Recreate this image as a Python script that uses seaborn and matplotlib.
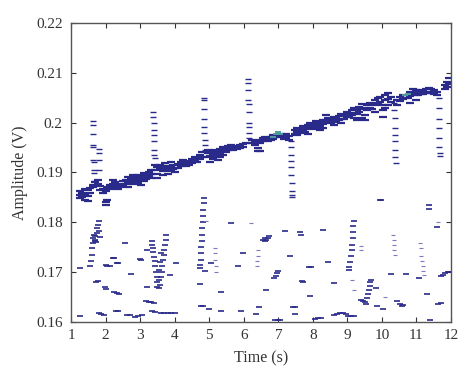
import numpy as np
import pandas as pd
import matplotlib
matplotlib.use("Agg")
import matplotlib.pyplot as plt
import seaborn as sns

# Main drifting trace: time columns and the amplitudes seen in each column
band_t = [1.25, 1.32, 1.4, 1.48, 1.55, 1.62, 1.7, 1.78, 1.85, 1.92, 2.0, 2.05, 2.12,
          2.2, 2.28, 2.35, 2.42, 2.5, 2.58, 2.65, 2.72, 2.8, 2.88, 2.95, 3.02, 3.1,
          3.18, 3.25, 3.3, 3.42, 3.5, 3.58, 3.65, 3.72, 3.8, 3.88, 3.95, 4.02, 4.1,
          4.18, 4.25, 4.32, 4.4, 4.5, 4.58, 4.65, 4.72, 4.8, 4.95, 5.02, 5.1, 5.18,
          5.25, 5.32, 5.4, 5.48, 5.55, 5.62, 5.7, 5.8, 5.9, 5.98, 6.05, 6.25, 6.32,
          6.4, 6.48, 6.55, 6.62, 6.7, 6.78, 6.85, 6.92, 7.0, 7.08, 7.15, 7.22, 7.3,
          7.48, 7.55, 7.62, 7.7, 7.78, 7.85, 7.92, 8.0, 8.08, 8.15, 8.22, 8.3, 8.38,
          8.45, 8.52, 8.6, 8.68, 8.75, 8.82, 8.9, 8.98, 9.05, 9.12, 9.2, 9.28, 9.35,
          9.42, 9.5, 9.58, 9.65, 9.72, 9.8, 9.88, 9.95, 10.02, 10.1, 10.18, 10.25,
          10.45, 10.52, 10.6, 10.68, 10.75, 10.82, 10.9, 10.98, 11.05, 11.12, 11.2,
          11.28, 11.35, 11.42, 11.5, 11.58, 11.82, 11.88, 11.95]
band_a = [[0.1862, 0.1855, 0.1848], [0.1858, 0.1850], [0.1866, 0.1857, 0.1845],
          [0.1864, 0.1852, 0.1843], [0.1868, 0.1858], [0.1875, 0.1870], [0.1880],
          [0.1885, 0.1876], [0.1872, 0.1865], [0.1866, 0.1858], [0.1862, 0.1840, 0.1835],
          [0.1870, 0.1845], [0.1874, 0.1866], [0.1885, 0.1876, 0.1868], [0.1880, 0.1872],
          [0.1874, 0.1866], [0.1877, 0.1870], [0.1882, 0.1874], [0.1884, 0.1876],
          [0.1890, 0.1880, 0.1870], [0.1886, 0.1878], [0.1894, 0.1884, 0.1876],
          [0.1890, 0.1880], [0.1895, 0.1886, 0.1878], [0.1892, 0.1884, 0.1874],
          [0.1898, 0.1890, 0.1882], [0.1896, 0.1887], [0.1900, 0.1892],
          [0.1905, 0.1896, 0.1888], [0.1915, 0.1905], [0.1910, 0.1897, 0.1889],
          [0.1915, 0.1906], [0.1912, 0.1902, 0.1894], [0.1918, 0.1908],
          [0.1912, 0.1905, 0.1897], [0.1920, 0.1910, 0.1902], [0.1914, 0.1906],
          [0.1908, 0.1900], [0.1916, 0.1908], [0.1920, 0.1912], [0.1924, 0.1916],
          [0.1918, 0.1912], [0.1922, 0.1915], [0.1926, 0.1918], [0.1930, 0.1922],
          [0.1928, 0.1920], [0.1935, 0.1926], [0.1940, 0.1930], [0.1945, 0.1938, 0.1930],
          [0.1940, 0.1932, 0.1920], [0.1943, 0.1935, 0.1926], [0.1945, 0.1938, 0.1930],
          [0.1942, 0.1934, 0.1925], [0.1946, 0.1938, 0.1930], [0.1950, 0.1942, 0.1934],
          [0.1948, 0.1940], [0.1953, 0.1945], [0.1955, 0.1948], [0.1950, 0.1945],
          [0.1952, 0.1946], [0.1955, 0.1949], [0.1956, 0.1950], [0.1958],
          [0.1965, 0.1958], [0.1962, 0.1955], [0.1960, 0.1948, 0.1942],
          [0.1965, 0.1958, 0.1943], [0.1970, 0.1962], [0.1972, 0.1965], [0.1968, 0.1962],
          [0.1972, 0.1966], [0.1975, 0.1968], [0.1972], [0.1975], [0.1978, 0.1972],
          [0.1975, 0.1968], [0.1978, 0.1970], [0.1974, 0.1966], [0.1986, 0.1978],
          [0.1990, 0.1982, 0.1975], [0.1988, 0.1980], [0.1994, 0.1985], [0.1990, 0.1982],
          [0.1996, 0.1988, 0.1978], [0.2000, 0.1992], [0.1998, 0.1990],
          [0.2004, 0.1995, 0.1988], [0.2000, 0.1992], [0.2002, 0.1994, 0.1986],
          [0.2006, 0.1998, 0.1990], [0.2015, 0.2005], [0.2010, 0.2002], [0.2008, 0.2000],
          [0.2012, 0.2004, 0.1996], [0.2010, 0.2002], [0.2014, 0.2006],
          [0.2018, 0.2008, 0.2000], [0.2016, 0.2008], [0.2022, 0.2012], [0.2020, 0.2012],
          [0.2025, 0.2016], [0.2030, 0.2020, 0.2010], [0.2026, 0.2018, 0.2006],
          [0.2032, 0.2022], [0.2038, 0.2028, 0.2010], [0.2030, 0.2015, 0.2005],
          [0.2035, 0.2025], [0.2040, 0.2030], [0.2038, 0.2028], [0.2045, 0.2035, 0.2022],
          [0.2050, 0.2040], [0.2052, 0.2042], [0.2035, 0.2025, 0.2012],
          [0.2055, 0.2045, 0.2030], [0.2060, 0.2048, 0.2035], [0.2052, 0.2042],
          [0.2045, 0.2035], [0.2052, 0.2044], [0.2055, 0.2048], [0.2050],
          [0.2050], [0.2062, 0.2054, 0.2040], [0.2068, 0.2058], [0.2065, 0.2055, 0.2045],
          [0.2062, 0.2055], [0.2066, 0.2058], [0.2064, 0.2058], [0.2068, 0.2060],
          [0.2070, 0.2062], [0.2068, 0.2060], [0.2066, 0.2058], [0.2062, 0.2055],
          [0.2075, 0.2068], [0.2082, 0.2072], [0.2090, 0.2078]]

# Vertical excursions off the trace
spike_t = [1.62, 1.62, 1.63, 1.63, 1.64, 1.64, 1.65, 1.65, 1.66, 1.66,
           1.80, 1.81, 1.81, 1.82,
           3.38, 3.38, 3.39, 3.39, 3.40, 3.40, 3.41, 3.41, 3.42,
           4.84, 4.84, 4.85, 4.85, 4.86, 4.86, 4.87, 4.87, 4.88,
           6.12, 6.12, 6.13, 6.13, 6.14, 6.14, 6.15, 6.15, 6.16, 6.16,
           7.36, 7.36, 7.37, 7.37, 7.38, 7.38, 7.39, 7.39, 7.40, 7.40,
           10.36, 10.36, 10.37, 10.37, 10.38, 10.38, 10.39, 10.39, 10.40,
           11.64, 11.64, 11.65, 11.65, 11.66, 11.66, 11.67, 11.67]
spike_a = [0.2003, 0.1995, 0.1978, 0.1955, 0.1950, 0.1925, 0.1921, 0.1905, 0.1898, 0.1882,
           0.1946, 0.1938, 0.1925, 0.1905,
           0.2022, 0.2012, 0.2000, 0.1985, 0.1975, 0.1962, 0.1945, 0.1935, 0.1928,
           0.2050, 0.2045, 0.2028, 0.2008, 0.1992, 0.1980, 0.1965, 0.1955, 0.1945,
           0.2088, 0.2080, 0.2065, 0.2045, 0.2038, 0.2022, 0.2000, 0.1992, 0.1980, 0.1970,
           0.1962, 0.1950, 0.1935, 0.1922, 0.1910, 0.1895, 0.1878, 0.1862, 0.1855, 0.1850,
           0.2040, 0.2025, 0.2010, 0.1990, 0.1975, 0.1962, 0.1945, 0.1930, 0.1918,
           0.2050, 0.2030, 0.2008, 0.1990, 0.1970, 0.1950, 0.1938, 0.1933]

# Scattered lower detections
low_t = [1.25, 1.27, 1.55, 1.58, 1.6, 1.6, 1.62, 1.64, 1.65, 1.68, 1.7, 1.72, 1.74, 1.76,
         1.78, 1.8, 1.82, 1.84, 1.68, 1.72, 1.78, 1.8, 1.87, 1.95, 1.97, 2.0, 2.0, 2.05,
         2.12, 2.2, 2.25, 2.34, 2.36, 2.25, 2.32, 2.38, 2.3, 2.36, 2.55, 2.62, 2.7, 2.74,
         2.85, 2.95, 3.05, 3.0, 3.03, 3.18, 3.25, 3.32, 3.4, 3.2, 3.2, 3.35, 3.42,
         3.33, 3.35, 3.36, 3.38, 3.4, 3.42, 3.44, 3.46, 3.48, 3.5, 3.5, 3.55, 3.58, 3.6,
         3.62, 3.64, 3.66, 3.68, 3.7, 3.72, 3.74, 3.76, 3.54, 3.56, 3.6, 3.55,
         3.6, 3.7, 3.8, 3.9, 4.0, 3.85, 4.05,
         4.72, 4.74, 4.75, 4.76, 4.77, 4.78, 4.79, 4.8, 4.81, 4.82, 4.83, 4.84, 4.85,
         4.74, 4.88, 4.75, 4.83, 4.98, 5.05, 5.33, 5.35, 5.63, 5.83, 5.92, 5.99, 6.35,
         6.45, 6.55, 6.6, 6.65, 6.7, 6.74, 6.62, 6.63, 6.88, 6.92, 6.96, 6.98, 6.9, 7.0,
         7.05, 7.2, 7.34, 7.42, 7.47, 7.48, 7.63, 7.66, 7.68, 7.72, 7.9, 7.95, 7.92,
         8.05, 8.15, 8.25, 8.3, 8.45, 8.6, 8.6, 8.7, 8.8, 8.88, 8.95, 9.02, 9.1, 9.2,
         9.18, 9.17, 9.16, 9.15, 9.13, 9.12, 9.1, 9.08, 9.06, 9.05,
         9.38, 9.45, 9.5, 9.55, 9.58, 9.6, 9.62, 9.64, 9.66, 9.68,
         9.83, 9.85, 9.93, 9.97, 10.04, 10.26, 10.45, 10.52, 10.58, 10.62, 10.7,
         11.08, 11.3, 11.35, 11.36, 11.4, 11.6, 11.63, 11.7, 11.72, 11.78, 11.84,
         11.9, 11.95]
low_a = [0.1612, 0.1708, 0.1712, 0.1722, 0.1735, 0.1748, 0.1758, 0.1768, 0.1775, 0.1772,
         0.1765, 0.1760, 0.1778, 0.1788, 0.1795, 0.1802, 0.1782, 0.1770, 0.1762, 0.1680,
         0.1682, 0.1617, 0.1615, 0.1614, 0.1670, 0.1667, 0.1715, 0.1713, 0.1713, 0.1728,
         0.1728, 0.1718, 0.1718, 0.1660, 0.1658, 0.1657, 0.1622, 0.1621, 0.1758, 0.1614,
         0.1613, 0.1696, 0.1610, 0.1611, 0.1613, 0.1726, 0.1724, 0.1642, 0.1641, 0.1640,
         0.1638, 0.1670, 0.1745, 0.1622, 0.1620,
         0.1762, 0.1755, 0.1748, 0.1740, 0.1730, 0.1722, 0.1712, 0.1700, 0.1690, 0.1680,
         0.1670, 0.1668, 0.1675, 0.1690, 0.1700, 0.1712, 0.1725, 0.1735, 0.1745, 0.1755,
         0.1765, 0.1775, 0.1705, 0.1720, 0.1738, 0.1685,
         0.1618, 0.1617, 0.1617, 0.1617, 0.1617, 0.1694, 0.1718,
         0.1708, 0.1715, 0.1725, 0.1738, 0.1750, 0.1762, 0.1775, 0.1788, 0.1800, 0.1812,
         0.1825, 0.1838, 0.1848,
         0.1676, 0.1702, 0.1631, 0.1632, 0.1625, 0.1718, 0.1660, 0.1622, 0.1799, 0.1712,
         0.1621, 0.1739, 0.1615, 0.1629, 0.1765, 0.1763, 0.1764, 0.1768, 0.1772, 0.1768,
         0.1664, 0.1688, 0.1693, 0.1698, 0.1702, 0.1604, 0.1604, 0.1604, 0.1783, 0.1732,
         0.1630, 0.1630, 0.1615, 0.1780, 0.1775, 0.1682, 0.1680, 0.1710, 0.1710, 0.1652,
         0.1606, 0.1608, 0.1608, 0.1784, 0.1720, 0.1679, 0.1614, 0.1616, 0.1618, 0.1617,
         0.1615, 0.1612, 0.1611, 0.1611,
         0.1802, 0.1792, 0.1780, 0.1768, 0.1755, 0.1745, 0.1732, 0.1720, 0.1710, 0.1705,
         0.1644, 0.1643, 0.1640, 0.1637, 0.1648, 0.1656, 0.1664, 0.1672, 0.1680, 0.1685,
         0.1668, 0.1631, 0.1844, 0.1844, 0.1626, 0.1697, 0.1643, 0.1636, 0.1632, 0.1634,
         0.1696, 0.1689, 0.1656, 0.1826, 0.1835, 0.1603, 0.1790, 0.1635, 0.1638, 0.1692,
         0.1695, 0.1698, 0.1700, 0.1700]

# Faint dotted trails
faint_t = [5.16, 5.17, 5.18, 5.19, 5.2, 6.38, 6.39, 6.4, 6.41, 9.12, 9.2, 9.4, 9.4,
           10.1, 10.33, 10.34, 10.35, 10.36, 10.37, 11.1, 11.12, 11.14, 11.16, 11.18,
           11.2, 11.22, 11.62, 4.92, 6.2]
faint_a = [0.1748, 0.1738, 0.1725, 0.1712, 0.1700, 0.1712, 0.1722, 0.1732, 0.1745,
           0.1685, 0.1665, 0.1752, 0.1745, 0.1650, 0.1775, 0.1765, 0.1755, 0.1745,
           0.1735, 0.1758, 0.1748, 0.1732, 0.1722, 0.1712, 0.1702, 0.1695, 0.1800,
           0.1802, 0.1799]

# Lighter (green/cyan) detections
light_t = [6.85, 6.92, 7.0, 7.05, 10.68, 10.75]
light_a = [0.1972, 0.1978, 0.1982, 0.1978, 0.2055, 0.2058]

sns.set_style("ticks")
plt.rcParams["font.family"] = ["Liberation Serif", "DejaVu Serif"]

band = pd.DataFrame({
    "t": [t for t, vals in zip(band_t, band_a) for _ in vals],
    "a": [v for vals in band_a for v in vals],
})
spikes = pd.DataFrame({"t": spike_t, "a": spike_a})
low = pd.DataFrame({"t": low_t, "a": low_a})
faint = pd.DataFrame({"t": faint_t, "a": faint_a})
light = pd.DataFrame({"t": light_t, "a": light_a})

fig = plt.figure(figsize=(4.74, 3.81), dpi=100)
ax = fig.add_axes([0.150, 0.155, 0.8015, 0.785])

navy = "#2a2a8a"
sns.scatterplot(data=band, x="t", y="a", marker="_", s=28, linewidth=1.6,
                color=navy, ax=ax, legend=False)
sns.scatterplot(data=spikes, x="t", y="a", marker="_", s=16, linewidth=1.0,
                color=navy, ax=ax, legend=False)
sns.scatterplot(data=low, x="t", y="a", marker="_", s=16, linewidth=1.2,
                color=navy, ax=ax, legend=False)
sns.scatterplot(data=faint, x="t", y="a", marker="_", s=5, linewidth=0.8,
                color="#7a7abd", ax=ax, legend=False)
sns.scatterplot(data=light, x="t", y="a", marker="_", s=22, linewidth=1.4,
                color="#4d9e9a", ax=ax, legend=False)

ax.set_xlim(1, 12)
ax.set_ylim(0.16, 0.22)
ax.set_xticks(range(1, 13))
ax.set_yticks([0.16, 0.17, 0.18, 0.19, 0.2, 0.21, 0.22])
ax.set_yticklabels(["0.16", "0.17", "0.18", "0.19", "0.2", "0.21", "0.22"])
ax.tick_params(direction="in", top=True, right=True, length=3.5, width=0.8,
               labelsize=11, colors="#333333", pad=6)
ax.tick_params(axis="x", pad=5)
for sp in ax.spines.values():
    sp.set_color("#555555")
    sp.set_linewidth(1.0)
ax.set_xlabel("Time (s)", fontsize=11.5, color="#333333", labelpad=6)
ax.set_ylabel("Amplitude (V)", fontsize=11.5, color="#333333", labelpad=6)

fig.savefig("out.png", dpi=100)
